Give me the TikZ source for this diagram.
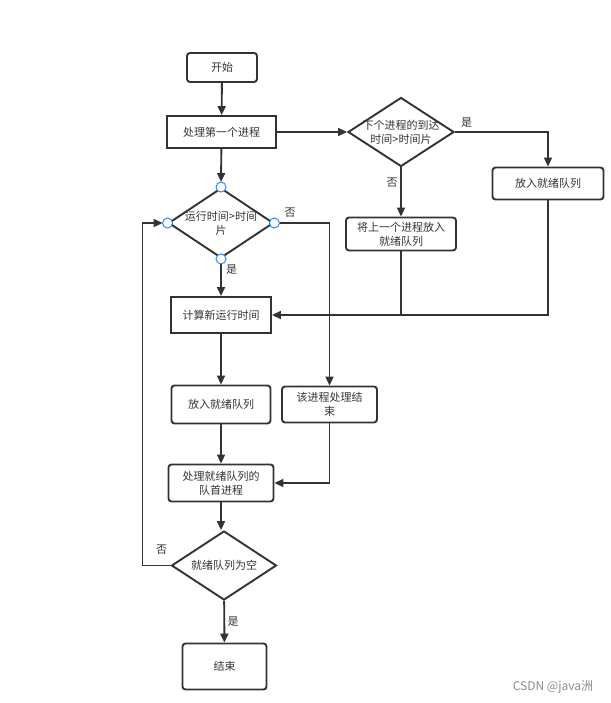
\documentclass[tikz,border=0pt]{standalone}
\usepackage{fontspec}
\setmainfont{Noto Sans CJK SC}
\usetikzlibrary{arrows.meta,shapes.geometric}
\definecolor{ink}{HTML}{333333}
\definecolor{pinblue}{HTML}{2F8CF0}

\begin{document}
\begin{tikzpicture} [
	x=1pt, y=-1pt,
	every node/.style={font=\fontsize{11}{14}\selectfont, text=ink},
	line/.style={draw=ink, line width=1.9pt},
	flow/.style={line, -{Triangle[length=9pt, width=8pt]}},
	box/.style={draw=ink, line width=1.9pt, align=center, inner sep=1pt},
	rbox/.style={box, rounded corners=3pt},
	dims/.style 2 args={minimum width=#1pt, minimum height=#2pt},
	decision/.style={draw=ink, line width=1.9pt, diamond, minimum width=105pt, minimum height=70pt, inner sep=0pt},
	pin/.style={circle, draw=pinblue, fill=white, line width=1pt, minimum size=10pt, inner sep=0pt},
]
\useasboundingbox (0,0) rectangle (610,703);

\node [rbox, dims={70}{29}] (start) at (222,67.5) {开始};
\node [box, dims={109}{32}] (first) at (221.5,132) {处理第一个进程};
\node [decision, label={[align=center]center:运行时间>时间\\片}] (slice) at (221,223) {};
\node [decision, dims={106}{69}, label={[align=center]center:下个进程的到达\\时间>时间片}] (next) at (401,132) {};
\node [rbox, dims={111}{32}] (readyR) at (548,183.5) {放入就绪队列};
\node [rbox, dims={110}{33}] (putprev) at (401,234) {将上一个进程放入\\就绪队列};
\node [box, dims={100}{36}] (calc) at (221,315) {计算新运行时间};
\node [rbox, dims={99}{38}] (readyL) at (221,404.5) {放入就绪队列};
\node [rbox, dims={95}{36}] (done) at (329.5,404.5) {该进程处理结\\束};
\node [rbox, dims={105}{37}] (head) at (221,483) {处理就绪队列的\\队首进程};
\node [decision, dims={105}{69}, label=center:就绪队列为空] (empty) at (224,565.5) {};
\node [rbox, dims={84}{46}] (finish) at (224.5,666.5) {结束};
\coordinate (loop) at (142.5,0);

% yes / no labels
\node (yes1) at (466.5,123) {是};
\node (no1) at (392,182.5) {否};
\node (no2) at (290,212.5) {否};
\node (yes2) at (231.5,270) {是};
\node (no3) at (161.5,550) {否};
\node (yes3) at (233,622) {是};

\draw [flow] (start) -- (first);
\draw [flow, shorten >=5pt] (first) -- (slice.north);
\draw [flow] (first) -- (next.west);
\draw [flow] (next.east) -| (readyR);
\draw [flow] (next.south) -- (putprev);
\draw [flow] (slice.south) -- (calc);
\draw [flow] (readyR.south) |- (calc.east);
\draw [line] (putprev.south) -- (putprev.south |- calc.east);
\draw [flow] (slice.east) -| (done);
\draw [flow] (calc) -- (readyL);
\draw [flow] (readyL) -- (head);
\draw [flow] (done.south) |- (head.east);
\draw [flow] (head) -- (head.south |- empty.north);
\draw [flow] (empty) -- (finish);
\draw [flow, shorten >=5pt] (empty.west) -- (empty.west -| loop) |- (slice.west);

\foreach \a in {north,south,east,west}
	\node [pin] (pin-\a) at (slice.\a) {};

\node [font=\fontsize{12}{14}\selectfont, text=black!45] (csdn) at (553,686.5) {CSDN @java洲};
\end{tikzpicture}
\end{document}
